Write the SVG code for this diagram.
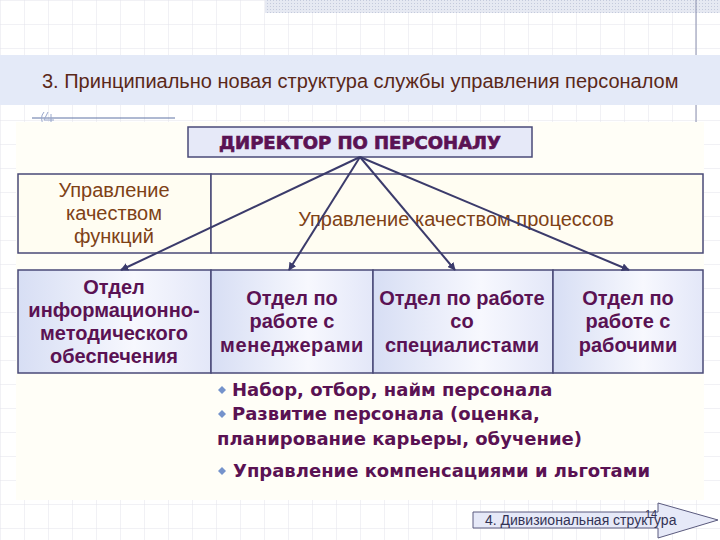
<svg xmlns="http://www.w3.org/2000/svg" width="720" height="540" viewBox="0 0 720 540">
<defs>
  <pattern id="grid" width="24" height="24" patternUnits="userSpaceOnUse" x="1" y="1">
    <path d="M24 0 V24 M0 24 H24" fill="none" stroke="#e3e3eb" stroke-width="1"/>
  </pattern>
  <pattern id="hatch" width="3" height="3" patternUnits="userSpaceOnUse">
    <rect width="3" height="3" fill="#e6e9f2"/>
    <rect width="1" height="1" fill="#c4cadc"/>
  </pattern>
  <linearGradient id="cellGrad" x1="0" y1="0" x2="1" y2="0">
    <stop offset="0" stop-color="#d7def4"/>
    <stop offset="0.6" stop-color="#f7f8fe"/>
    <stop offset="1" stop-color="#e3e7f8"/>
  </linearGradient>
  <marker id="arr" viewBox="0 0 10 10" refX="9" refY="5" markerWidth="8" markerHeight="8" markerUnits="userSpaceOnUse" orient="auto">
    <path d="M0 0 L10 5 L0 10 z" fill="#3b3b6b"/>
  </marker>
  <style>
    .title{font-family:"Liberation Sans",Arial,sans-serif;font-size:20px;fill:#5a2818}
    .r1{font-family:"Liberation Sans",Arial,sans-serif;font-size:20px;fill:#7e4116;text-anchor:middle}
    .r2{font-family:"Liberation Sans",Arial,sans-serif;font-size:20px;font-weight:bold;fill:#5a1253;text-anchor:middle}
    .dir{font-family:"DejaVu Sans",Verdana,sans-serif;font-size:18px;font-weight:bold;fill:#5a1253;stroke:#5a1253;stroke-width:0.7;text-anchor:middle}
    .bul{font-family:"DejaVu Sans",Verdana,sans-serif;font-size:18px;font-weight:bold;fill:#5a1253}
    .box{stroke:#4a4a78;stroke-width:1.5}
    .conn{stroke:#3b3b6b;stroke-width:2;fill:none}
    .dia{fill:#7593cc}
  </style>
</defs>
<rect width="720" height="540" fill="#ffffff"/>
<rect width="720" height="540" fill="url(#grid)"/>
<rect x="265" y="0" width="455" height="13" fill="url(#hatch)"/>
<line x1="696" y1="0" x2="696" y2="128" stroke="#8a8fae" stroke-width="1"/>
<rect x="0" y="55" width="720" height="50" fill="#e4eaf8"/>
<text class="title" x="42" y="88">3. Принципиально новая структура службы управления персоналом</text>
<line x1="32" y1="118" x2="175" y2="118" stroke="#5e72a4" stroke-width="1"/>
<path d="M44 112 Q39 118 44 125 M48 112 L44 120 H54 M51 114 V126" fill="none" stroke="#9aa8cc" stroke-width="1"/>
<rect x="16" y="122" width="688" height="378" fill="#fffef7"/>

<g id="director">
  <rect class="box" x="188" y="127" width="344" height="30" fill="#e6e9f8"/>
  <text class="dir" x="360" y="149">ДИРЕКТОР ПО ПЕРСОНАЛУ</text>
</g>
<g id="quality-functions">
  <rect class="box" x="18" y="174" width="193" height="79" fill="#fffdf2"/>
  <text class="r1" x="114" y="197">Управление</text>
  <text class="r1" x="114" y="220">качеством</text>
  <text class="r1" x="114" y="243">функций</text>
</g>
<g id="quality-processes">
  <rect class="box" x="211" y="174" width="492" height="79" fill="#fffdf2"/>
  <text class="r1" x="456" y="226">Управление качеством процессов</text>
</g>
<g id="dept-info">
  <rect class="box" x="18" y="270" width="193" height="103" fill="url(#cellGrad)"/>
  <text class="r2" x="114" y="294">Отдел</text>
  <text class="r2" x="114" y="317">информационно-</text>
  <text class="r2" x="114" y="340">методического</text>
  <text class="r2" x="114" y="363">обеспечения</text>
</g>
<g id="dept-managers">
  <rect class="box" x="211" y="270" width="162" height="103" fill="url(#cellGrad)"/>
  <text class="r2" x="292" y="305">Отдел по</text>
  <text class="r2" x="292" y="328">работе с</text>
  <text class="r2" x="292" y="352" letter-spacing="0.6">менеджерами</text>
</g>
<g id="dept-specialists">
  <rect class="box" x="373" y="270" width="180" height="103" fill="url(#cellGrad)"/>
  <text class="r2" x="462" y="305">Отдел по работе</text>
  <text class="r2" x="462" y="328">со</text>
  <text class="r2" x="462" y="352">специалистами</text>
</g>
<g id="dept-workers">
  <rect class="box" x="553" y="270" width="150" height="103" fill="url(#cellGrad)"/>
  <text class="r2" x="628" y="305">Отдел по</text>
  <text class="r2" x="628" y="328">работе с</text>
  <text class="r2" x="628" y="352">рабочими</text>
</g>

<g id="connectors">
  <line class="conn" x1="360" y1="157" x2="121" y2="270" marker-end="url(#arr)"/>
  <line class="conn" x1="360" y1="157" x2="289" y2="270" marker-end="url(#arr)"/>
  <line class="conn" x1="360" y1="157" x2="455" y2="270" marker-end="url(#arr)"/>
  <line class="conn" x1="360" y1="157" x2="629" y2="270" marker-end="url(#arr)"/>
</g>

<g id="bullets">
  <polygon class="dia" points="222,386 226,390 222,394 218,390"/>
  <text class="bul" x="232" y="396">Набор, отбор, найм персонала</text>
  <polygon class="dia" points="222,410 226,414 222,418 218,414"/>
  <text class="bul" x="232" y="420">Развитие персонала (оценка,</text>
  <text class="bul" x="217" y="445">планирование карьеры, обучение)</text>
  <polygon class="dia" points="222,467 226,471 222,475 218,471"/>
  <text class="bul" x="233" y="477">Управление компенсациями и льготами</text>
</g>

<g id="next-button">
  <path d="M473 512 H658 V503 L718 520 L658 538 V528 H473 Z" fill="#e6e9f8" stroke="#5a5a7e" stroke-width="1"/>
  <text x="485" y="525" font-family="'Liberation Sans',Arial,sans-serif" font-size="14" fill="#333355">4. Дивизиональная структура</text>
  <text x="645" y="518" font-family="'Liberation Sans',Arial,sans-serif" font-size="11" fill="#333355">14</text>
</g>
</svg>
